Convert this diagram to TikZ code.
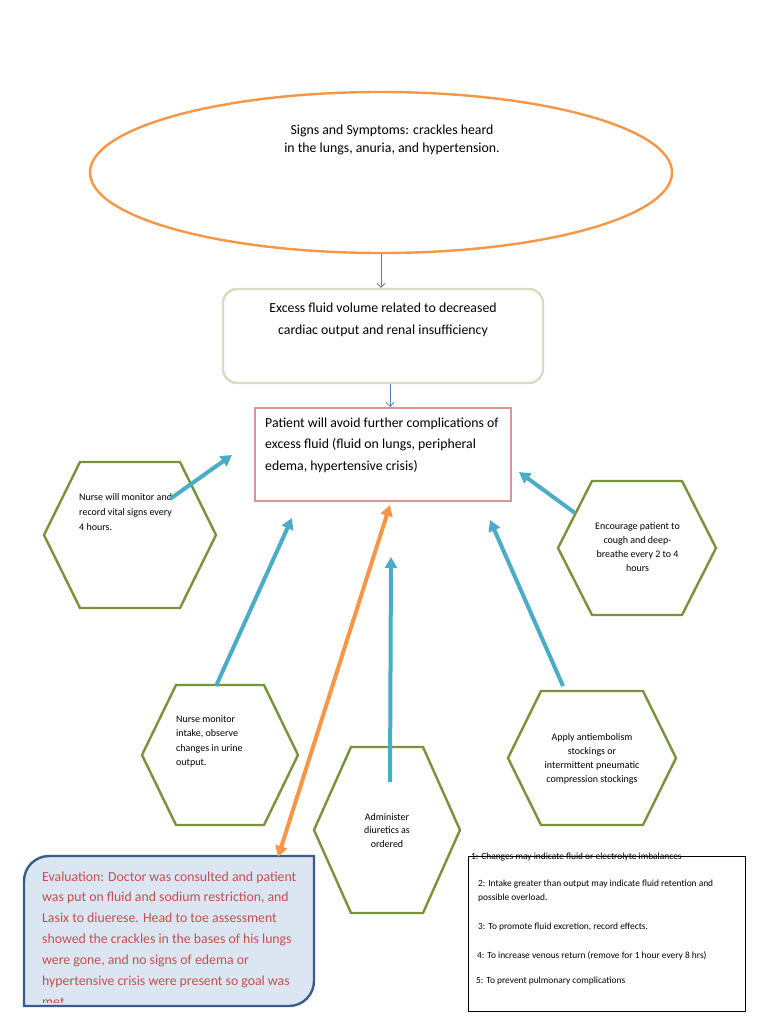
\documentclass[tikz,border=0pt]{standalone}
\usepackage{fontspec}
\setmainfont{Carlito}
\usetikzlibrary{arrows.meta,shapes.geometric}
\definecolor{ellorange}{HTML}{F79646}
\definecolor{thinblue}{HTML}{4F81BD}
\definecolor{boxbeige}{HTML}{DDD9C3}
\definecolor{goalred}{HTML}{D99694}
\definecolor{hexgreen}{HTML}{77933C}
\definecolor{aqua}{HTML}{4BACC6}
\definecolor{evalfill}{HTML}{DCE6F2}
\definecolor{evalborder}{HTML}{385D8A}
\definecolor{evaltext}{HTML}{C0504D}
\tikzset{
  thinarrow/.style={draw=thinblue, line width=0.8pt, -{Straight Barb[length=4pt,width=8pt]}},
  fatarrow/.style={draw=aqua, line width=4pt, -{Triangle[length=11pt,width=12pt]}},
  orangearrow/.style={draw=ellorange, line width=4pt, {Triangle[length=11pt,width=12pt]}-{Triangle[length=11pt,width=12pt]}},
  hexline/.style={draw=hexgreen, line width=2.4pt, fill=white, line join=miter},
  bigtext/.style={inner sep=0pt, font=\fontsize{13.8}{#1}\selectfont},
  smalltext/.style={inner sep=0pt, font=\fontsize{10}{#1}\selectfont},
  rattext/.style={inner sep=0pt, anchor=base west, align=left, font=\fontsize{9.4}{14}\selectfont},
}
\newcommand{\hexpath}[5]{%
  \draw[hexline] ({#1-#3},#2) -- ({#1-#3+#5},{#2-#4}) -- ({#1+#3-#5},{#2-#4})
    -- ({#1+#3},#2) -- ({#1+#3-#5},{#2+#4}) -- ({#1-#3+#5},{#2+#4}) -- cycle;}
\begin{document}
\begin{tikzpicture}[x=1pt,y=-1pt]
\fill[white] (0,0) rectangle (768,1024);
\useasboundingbox (0,0) rectangle (768,1024);

% top ellipse
\node[ellipse, draw=ellorange, line width=2.4pt, minimum width=582pt, minimum height=161pt, inner sep=0pt] (ell) at (381,172.5) {};
\node[bigtext=18, anchor=base, align=center] (elltext) at (392,153) {Signs and Symptoms: crackles heard\\in the lungs, anuria, and hypertension.};

% diagnosis box
\node[draw=boxbeige, line width=2.4pt, rounded corners=14pt, minimum width=320pt, minimum height=94pt, inner sep=0pt] (diag) at (383,336) {};
\node[bigtext=22, anchor=base, align=center] (diagtext) at (383,334) {Excess fluid volume related to decreased\\cardiac output and renal insufficiency};

% goal box
\node[draw=goalred, line width=2pt, fill=white, minimum width=256pt, minimum height=93pt, inner sep=0pt] (goal) at (383,454.5) {};
\node[bigtext=21.5, anchor=base west, align=left] (goaltext) at (265,470) {Patient will avoid further complications of\\excess fluid (fluid on lungs, peripheral\\edema, hypertensive crisis)};

% thin arrows
\draw[thinarrow] (ell.south) -- (ell.south |- diag.north);
\draw[thinarrow] ([xshift=7pt]diag.south) -- ([xshift=7pt]diag.south |- goal.north);

% hexagons
\hexpath{130}{535}{86}{73}{36}
\node[smalltext=15, anchor=base west, align=left] (hexA) at (79,530) {Nurse will monitor and\\record vital signs every\\4 hours.};

\hexpath{637}{548}{79}{67}{34}
\node[smalltext=14, anchor=base, align=center] (hexB) at (637.5,571) {Encourage patient to\\cough and deep-\\breathe every 2 to 4\\hours};

\hexpath{220}{755}{78}{70}{34}
\node[smalltext=14.5, anchor=base west, align=left] (hexC) at (176,765.5) {Nurse monitor\\intake, observe\\changes in urine\\output.};

\hexpath{387}{830}{73}{83}{37}
\node[smalltext=13.5, anchor=base, align=center] (hexD) at (387,847) {Administer\\diuretics as\\ordered};

\hexpath{592}{758}{84}{67}{33}
\node[smalltext=14.2, anchor=base, align=center] (hexE) at (592,782.6) {Apply antiembolism\\stockings or\\intermittent pneumatic\\compression stockings};

% evaluation box
\path[fill=evalfill, draw=evalborder, line width=2.4pt]
  (24,1006) -- (24,881) arc[start angle=180, end angle=90, radius=25pt]
  -- (314,856) -- (314,981) arc[start angle=0, end angle=-90, radius=25pt] -- cycle;
\coordinate (evaltop) at (278,857);
\begin{scope}
\clip (26,858) rectangle (312,1002.5);
\node[inner sep=0pt, anchor=base west, align=left, text=evaltext, font=\fontsize{13.8}{20.9}\selectfont] (evaltxt) at (42,1006.4) {Evaluation: Doctor was consulted and patient\\was put on fluid and sodium restriction, and\\Lasix to diuerese. Head to toe assessment\\showed the crackles in the bases of his lungs\\were gone, and no signs of edema or\\hypertensive crisis were present so goal was\\met};
\end{scope}

% rationale box
\node[draw=black, line width=1pt, minimum width=277pt, minimum height=155pt, inner sep=0pt, anchor=north west] (rat) at (468,856) {};
\node[rattext] (r1) at (471,859) {1: Changes may indicate fluid or electrolyte imbalances};
\node[rattext] (r2) at (478,900) {2: Intake greater than output may indicate fluid retention and\\possible overload.};
\node[rattext] (r3) at (478,929) {3: To promote fluid excretion, record effects.};
\node[rattext] (r4) at (477,958) {4: To increase venous return (remove for 1 hour every 8 hrs)};
\node[rattext] (r5) at (476,983) {5: To prevent pulmonary complications};

% arrow endpoints
\coordinate (a1s) at (170,499); \coordinate (a1e) at (232,455);
\coordinate (a2s) at (216,686); \coordinate (a2e) at (292,518);
\coordinate (a3s) at (390,782); \coordinate (a3e) at (391,557);
\coordinate (a4s) at (563,686); \coordinate (a4e) at (490,520);
\coordinate (a5s) at (575,513); \coordinate (a5e) at (519,472);
\coordinate (goalbot) at (390,505);

\draw[fatarrow] (a1s) -- (a1e);
\draw[fatarrow] (a2s) -- (a2e);
\draw[fatarrow] (a3s) -- (a3e);
\draw[fatarrow] (a4s) -- (a4e);
\draw[fatarrow] (a5s) -- (a5e);
\draw[orangearrow] (evaltop) -- (goalbot);
\end{tikzpicture}
\end{document}
